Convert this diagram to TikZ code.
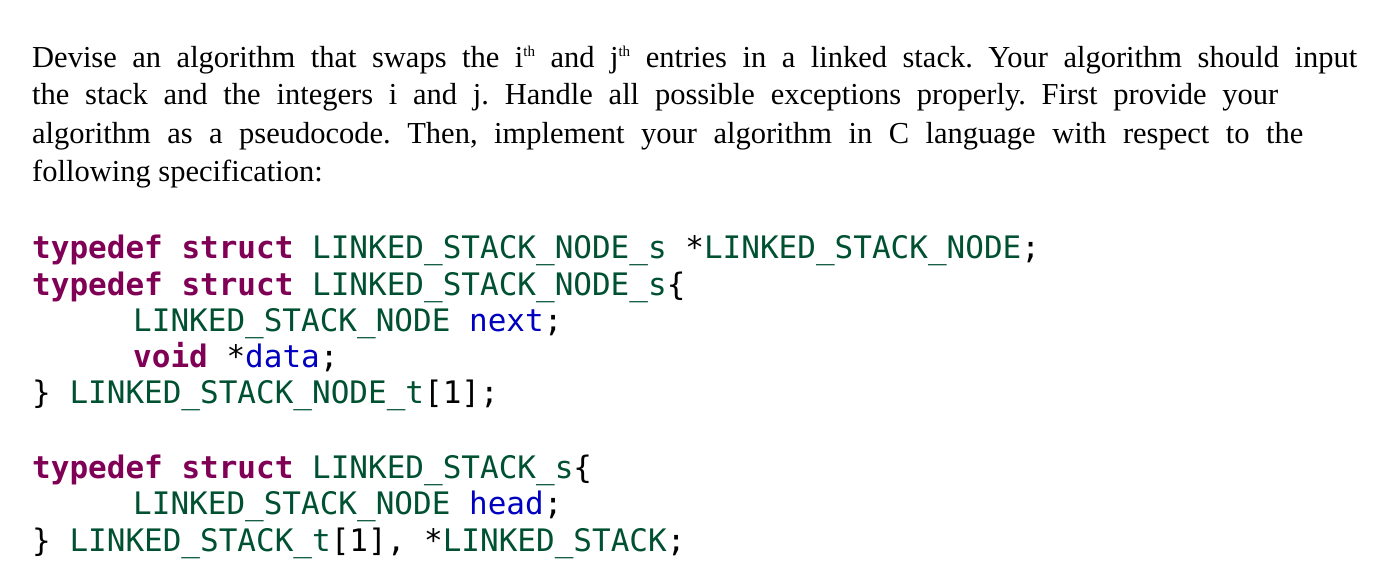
\documentclass[tikz,border=0pt]{standalone}
\usepackage{fontspec}
\setmainfont{Liberation Serif}
\newfontfamily\codefont{DejaVu Sans Mono}
\definecolor{kw}{HTML}{7F0055}
\definecolor{ty}{HTML}{005032}
\definecolor{fld}{HTML}{0000C0}
\newcommand{\K}[1]{\textcolor{kw}{\bfseries #1}}
\newcommand{\T}[1]{\textcolor{ty}{#1}}
\newcommand{\F}[1]{\textcolor{fld}{#1}}
\newcommand{\sth}{\raisebox{11pt}{\fontsize{15}{15}\selectfont th}}
\frenchspacing
\begin{document}
\begin{tikzpicture}[x=1pt,y=-1pt,
  prose/.style={anchor=base west,inner sep=0pt,font=\fontsize{30.5}{36}\selectfont},
  code/.style={anchor=base west,inner sep=0pt,font=\codefont\fontsize{31}{36}\selectfont}]
\useasboundingbox (0,0) rectangle (1377,586);
\node[prose] (p1) at (32,67) {\hbox to 1325pt{Devise an algorithm that swaps the i\sth{} and j\sth{} entries in a linked stack. Your algorithm should input}};
\node[prose] (p2) at (32,105) {\hbox to 1246pt{the stack and the integers i and j. Handle all possible exceptions properly. First provide your}};
\node[prose] (p3) at (32,143) {\hbox to 1271pt{algorithm as a pseudocode. Then, implement your algorithm in C language with respect to the}};
\node[prose] (p4) at (32,181) {following specification:};
\node[code] (c1) at (32,258) {\K{typedef} \K{struct} \T{LINKED\_STACK\_NODE\_s} *\T{LINKED\_STACK\_NODE};};
\node[code] (c2) at (32,295) {\K{typedef} \K{struct} \T{LINKED\_STACK\_NODE\_s}\{};
\node[code] (c3) at (133,331) {\T{LINKED\_STACK\_NODE} \F{next};};
\node[code] (c4) at (133,367) {\K{void} *\F{data};};
\node[code] (c5) at (32,403) {\} \T{LINKED\_STACK\_NODE\_t}[1];};
\node[code] (c6) at (32,478) {\K{typedef} \K{struct} \T{LINKED\_STACK\_s}\{};
\node[code] (c7) at (133,514) {\T{LINKED\_STACK\_NODE} \F{head};};
\node[code] (c8) at (32,551) {\} \T{LINKED\_STACK\_t}[1], *\T{LINKED\_STACK};};
\end{tikzpicture}
\end{document}
